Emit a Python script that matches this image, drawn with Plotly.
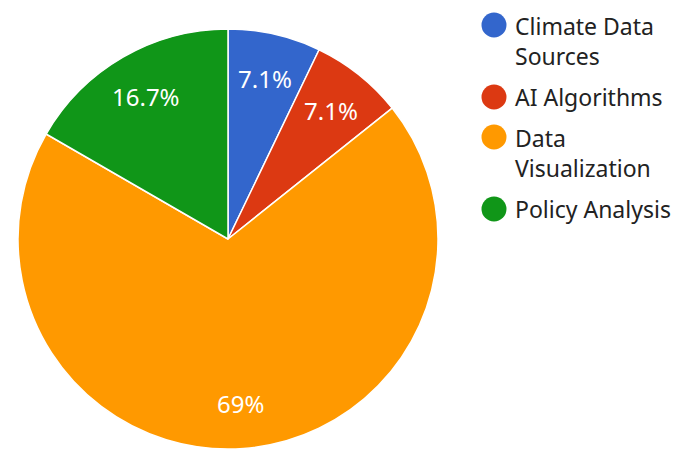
import math
import plotly.graph_objects as go

labels = ["Climate Data Sources", "AI Algorithms", "Data Visualization", "Policy Analysis"]
legend_text = ["Climate Data<br>Sources", "AI Algorithms", "Data<br>Visualization", "Policy Analysis"]
values = [3, 3, 29, 7]
colors = ["#3366CC", "#DC3912", "#FF9900", "#109618"]

FONT = "Noto Sans"
# the page body has an 8px margin: figure occupies 670x441 of the 686x457 window
FW, FH, OFF = 670, 441, 8


def px(x):
    return (x - OFF) / FW


def py(y):
    return 1 - (y - OFF) / FH


CX, CY, R = 228, 239, 210  # pie centre / radius in window pixels

fig = go.Figure(go.Pie(
    labels=labels, values=values, sort=False, direction="clockwise", rotation=0,
    marker=dict(colors=colors, line=dict(color="white", width=1.5)),
    textinfo="none",
    domain=dict(x=[px(CX - R), px(CX + R)], y=[py(CY + R), py(CY - R)]),
    showlegend=False, hoverinfo="label+percent",
))

shapes, annotations = [], []

# percentage labels, placed on each slice's bisector
total = sum(values)
cum = 0.0
for v in values:
    mid = (cum + v / 2) / total
    cum += v
    ang = 2 * math.pi * mid
    rr = 0.785 * R
    pct = f"{100 * v / total:.1f}".rstrip("0").rstrip(".") + "%"
    annotations.append(dict(text=pct, xref="paper", yref="paper",
                            x=px(CX + rr * math.sin(ang)), y=py(CY - rr * math.cos(ang)),
                            xanchor="center", yanchor="middle", showarrow=False,
                            font=dict(family=FONT, size=24, color="white")))

# custom legend (circle markers + wrapped text)
legend_y = [41, 97, 153, 209]
marker_y = [25, 97, 137, 209]
for c, txt, ly, my in zip(colors, legend_text, legend_y, marker_y):
    shapes.append(dict(type="circle", xref="paper", yref="paper",
                       xsizemode="pixel", ysizemode="pixel",
                       xanchor=px(494), yanchor=py(my),
                       x0=-12.5, x1=12.5, y0=-12.5, y1=12.5,
                       fillcolor=c, line=dict(width=0)))
    annotations.append(dict(text=txt, xref="paper", yref="paper", x=px(513), y=py(ly),
                            xanchor="left", yanchor="middle", align="left", showarrow=False,
                            font=dict(family=FONT, size=23, color="#222222")))

fig.update_layout(
    width=FW, height=FH,
    margin=dict(l=0, r=0, t=0, b=0),
    paper_bgcolor="white", plot_bgcolor="white",
    shapes=shapes, annotations=annotations,
    font=dict(family=FONT),
)
fig.write_html("out.html")
